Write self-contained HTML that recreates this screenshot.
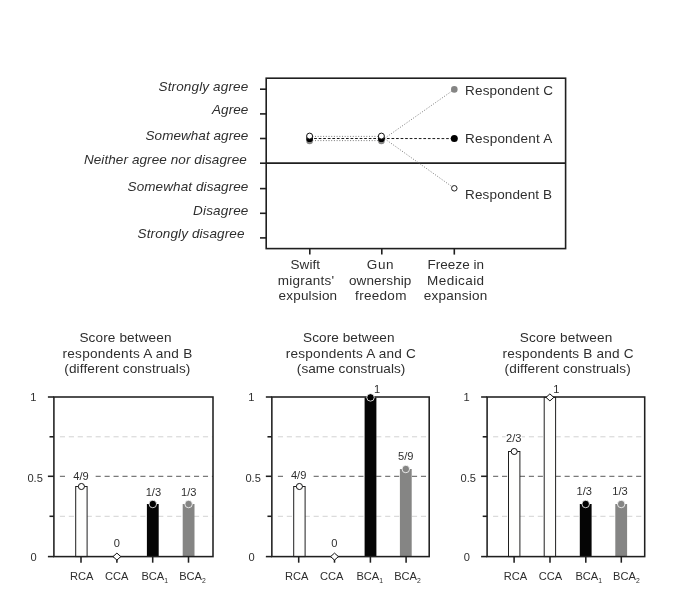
<!DOCTYPE html>
<html lang="en"><head><meta charset="utf-8"><title>Figure</title>
<style>html,body{margin:0;padding:0;background:#fff;}svg{display:block;font-family:"Liberation Sans",sans-serif;}</style>
</head><body>
<svg width="698" height="606" viewBox="0 0 698 606">
<rect width="698" height="606" fill="#fff"/>
<g stroke="#1f1f1f" stroke-width="1.6" fill="none">
<rect x="266.2" y="78.2" width="299.40000000000003" height="170.39999999999998"/>
<line x1="260.0" y1="89.2" x2="266.2" y2="89.2"/>
<line x1="260.0" y1="113.9" x2="266.2" y2="113.9"/>
<line x1="260.0" y1="138.5" x2="266.2" y2="138.5"/>
<line x1="260.0" y1="163.2" x2="266.2" y2="163.2"/>
<line x1="260.0" y1="188.6" x2="266.2" y2="188.6"/>
<line x1="260.0" y1="213.3" x2="266.2" y2="213.3"/>
<line x1="260.0" y1="237.9" x2="266.2" y2="237.9"/>
<line x1="266.2" y1="163.1" x2="565.6" y2="163.1"/>
<line x1="309.8" y1="248.6" x2="309.8" y2="254.6"/>
<line x1="381.8" y1="248.6" x2="381.8" y2="254.6"/>
<line x1="454.3" y1="248.6" x2="454.3" y2="254.6"/>
</g>
<text x="158.48" y="90.8" font-size="13.5" text-anchor="start" font-style="italic" textLength="89.75" lengthAdjust="spacing" fill="#2e2e2e">Strongly agree</text>
<text x="212.05" y="114.4" font-size="13.5" text-anchor="start" font-style="italic" textLength="36.29" lengthAdjust="spacing" fill="#2e2e2e">Agree</text>
<text x="145.54" y="139.9" font-size="13.5" text-anchor="start" font-style="italic" textLength="102.73" lengthAdjust="spacing" fill="#2e2e2e">Somewhat agree</text>
<text x="83.88" y="164.2" font-size="13.5" text-anchor="start" font-style="italic" textLength="162.89" lengthAdjust="spacing" fill="#2e2e2e">Neither agree nor disagree</text>
<text x="127.54" y="190.8" font-size="13.5" text-anchor="start" font-style="italic" textLength="120.84" lengthAdjust="spacing" fill="#2e2e2e">Somewhat disagree</text>
<text x="193.06" y="215.1" font-size="13.5" text-anchor="start" font-style="italic" textLength="55.32" lengthAdjust="spacing" fill="#2e2e2e">Disagree</text>
<text x="137.58" y="238.3" font-size="13.5" text-anchor="start" font-style="italic" textLength="106.87" lengthAdjust="spacing" fill="#2e2e2e">Strongly disagree</text>
<text x="290.54" y="269.1" font-size="13.5" text-anchor="start" textLength="29.52" lengthAdjust="spacing" fill="#2e2e2e">Swift</text>
<text x="277.82" y="284.7" font-size="13.5" text-anchor="start" textLength="56.29" lengthAdjust="spacing" fill="#2e2e2e">migrants'</text>
<text x="278.61" y="300.2" font-size="13.5" text-anchor="start" textLength="58.48" lengthAdjust="spacing" fill="#2e2e2e">expulsion</text>
<text x="366.82" y="269.1" font-size="13.5" text-anchor="start" textLength="26.82" lengthAdjust="spacing" fill="#2e2e2e">Gun</text>
<text x="348.97" y="284.7" font-size="13.5" text-anchor="start" textLength="62.4" lengthAdjust="spacing" fill="#2e2e2e">ownership</text>
<text x="355.09" y="300.2" font-size="13.5" text-anchor="start" textLength="51.29" lengthAdjust="spacing" fill="#2e2e2e">freedom</text>
<text x="427.46" y="269.1" font-size="13.5" text-anchor="start" textLength="56.63" lengthAdjust="spacing" fill="#2e2e2e">Freeze in</text>
<text x="427.1" y="284.7" font-size="13.5" text-anchor="start" textLength="57.01" lengthAdjust="spacing" fill="#2e2e2e">Medicaid</text>
<text x="423.87" y="300.2" font-size="13.5" text-anchor="start" textLength="63.5" lengthAdjust="spacing" fill="#2e2e2e">expansion</text>
<g fill="none" stroke-linecap="butt">
<path d="M309.6 140.6 L381.4 140.6 L454.3 89.4" stroke="#747474" stroke-width="0.95" stroke-dasharray="1 1.7"/>
<path d="M309.6 136.4 L381.4 136.4 L454.3 188.3" stroke="#747474" stroke-width="0.95" stroke-dasharray="1 1.7"/>
<path d="M309.6 138.5 L381.4 138.5 L454.3 138.6" stroke="#1c1c1c" stroke-width="1.0" stroke-dasharray="2.7 1.85"/>
</g>
<circle cx="309.6" cy="141.0" r="3.3" fill="#858584"/>
<circle cx="309.6" cy="138.7" r="3.4" fill="#000"/>
<circle cx="309.6" cy="136.1" r="3.0" fill="#fff" stroke="#111" stroke-width="1.0"/>
<circle cx="381.4" cy="141.0" r="3.3" fill="#858584"/>
<circle cx="381.4" cy="138.7" r="3.4" fill="#000"/>
<circle cx="381.4" cy="136.1" r="3.0" fill="#fff" stroke="#111" stroke-width="1.0"/>
<circle cx="454.3" cy="89.4" r="3.3" fill="#858584"/>
<circle cx="454.3" cy="138.6" r="3.5" fill="#000"/>
<circle cx="454.3" cy="188.3" r="2.75" fill="#fff" stroke="#111" stroke-width="0.95"/>
<text x="465.1" y="95.4" font-size="13.5" text-anchor="start" textLength="87.9" lengthAdjust="spacing" fill="#2e2e2e">Respondent C</text>
<text x="465.1" y="143.0" font-size="13.5" text-anchor="start" textLength="87.05" lengthAdjust="spacing" fill="#2e2e2e">Respondent A</text>
<text x="465.1" y="199.4" font-size="13.5" text-anchor="start" textLength="87.04" lengthAdjust="spacing" fill="#2e2e2e">Respondent B</text>
<text x="79.42" y="342.2" font-size="13.6" text-anchor="start" textLength="92.1" lengthAdjust="spacing" fill="#2e2e2e">Score between</text>
<text x="62.54" y="357.9" font-size="13.6" text-anchor="start" textLength="129.7" lengthAdjust="spacing" fill="#2e2e2e">respondents A and B</text>
<text x="64.31" y="373.3" font-size="13.6" text-anchor="start" textLength="126.05" lengthAdjust="spacing" fill="#2e2e2e">(different construals)</text>
<line x1="59.9" y1="436.8" x2="213.0" y2="436.8" stroke="#c9c9c9" stroke-width="0.85" stroke-dasharray="5.1 3.84"/>
<line x1="59.9" y1="476.3" x2="213.0" y2="476.3" stroke="#3a3a3a" stroke-width="0.85" stroke-dasharray="5.1 3.84"/>
<line x1="59.9" y1="516.3" x2="213.0" y2="516.3" stroke="#c9c9c9" stroke-width="0.85" stroke-dasharray="5.1 3.84"/>
<rect x="75.7" y="486.5" width="11.4" height="70.1" fill="#fefefd" stroke="#1f1f1f" stroke-width="1"/>
<rect x="146.9" y="504.0" width="11.8" height="52.6" fill="#050505"/>
<rect x="182.7" y="504.0" width="11.8" height="52.6" fill="#858584"/>
<g stroke="#1f1f1f" stroke-width="1.55" fill="none">
<rect x="53.9" y="397.0" width="159.10" height="159.60"/>
<line x1="47.9" y1="397.0" x2="53.9" y2="397.0"/>
<line x1="49.5" y1="436.8" x2="53.9" y2="436.8"/>
<line x1="47.9" y1="476.3" x2="53.9" y2="476.3"/>
<line x1="49.5" y1="516.3" x2="53.9" y2="516.3"/>
<line x1="47.9" y1="556.6" x2="53.9" y2="556.6"/>
<line x1="81.0" y1="556.6" x2="81.0" y2="562.7"/>
<line x1="116.9" y1="556.6" x2="116.9" y2="562.7"/>
<line x1="152.7" y1="556.6" x2="152.7" y2="562.7"/>
<line x1="188.5" y1="556.6" x2="188.5" y2="562.7"/>
</g>
<rect x="66.8" y="470.6" width="25.9" height="10" fill="#fff"/>
<text x="81.0" y="480.2" font-size="11.1" text-anchor="middle" fill="#2e2e2e">4/9</text>
<circle cx="81.4" cy="486.5" r="3.05" fill="#fff" stroke="#111" stroke-width="1"/>
<rect x="113.5" y="537.5" width="6.8" height="10" fill="#fff"/>
<text x="116.9" y="547.1" font-size="11.1" text-anchor="middle" fill="#2e2e2e">0</text>
<path d="M116.9 553.1 l3.9 3.5 l-3.9 3.5 l-3.9 -3.5 z" fill="#fff" stroke="#111" stroke-width="1"/>
<rect x="145.3" y="485.9" width="16.2" height="10" fill="#fff"/>
<text x="153.4" y="495.5" font-size="11.1" text-anchor="middle" fill="#2e2e2e">1/3</text>
<circle cx="152.8" cy="504.0" r="3.75" fill="#000" stroke="#fff" stroke-width="0.8"/>
<rect x="180.7" y="485.9" width="16.2" height="10" fill="#fff"/>
<text x="188.8" y="495.5" font-size="11.1" text-anchor="middle" fill="#2e2e2e">1/3</text>
<circle cx="188.6" cy="504.0" r="3.75" fill="#858584" stroke="#fff" stroke-width="0.8"/>
<text x="33.4" y="401.0" font-size="11.1" text-anchor="middle" fill="#2e2e2e">1</text>
<text x="35.1" y="482.0" font-size="11.1" text-anchor="middle" fill="#2e2e2e">0.5</text>
<text x="33.6" y="560.8" font-size="11.1" text-anchor="middle" fill="#2e2e2e">0</text>
<text x="81.8" y="579.7" font-size="11.1" text-anchor="middle" fill="#2e2e2e">RCA</text>
<text x="116.6" y="579.7" font-size="11.1" text-anchor="middle" fill="#2e2e2e">CCA</text>
<text x="141.4" y="579.7" font-size="11.1" text-anchor="start" fill="#2e2e2e">BCA<tspan font-size="6.8" dy="3">1</tspan></text>
<text x="179.2" y="579.7" font-size="11.1" text-anchor="start" fill="#2e2e2e">BCA<tspan font-size="6.8" dy="3">2</tspan></text>
<text x="303.1" y="342.2" font-size="13.6" text-anchor="start" textLength="91.42" lengthAdjust="spacing" fill="#2e2e2e">Score between</text>
<text x="285.82" y="357.9" font-size="13.6" text-anchor="start" textLength="130.09" lengthAdjust="spacing" fill="#2e2e2e">respondents A and C</text>
<text x="296.82" y="373.3" font-size="13.6" text-anchor="start" textLength="108.54" lengthAdjust="spacing" fill="#2e2e2e">(same construals)</text>
<line x1="277.9" y1="436.8" x2="429.2" y2="436.8" stroke="#c9c9c9" stroke-width="0.85" stroke-dasharray="5.1 3.84"/>
<line x1="277.9" y1="476.3" x2="429.2" y2="476.3" stroke="#3a3a3a" stroke-width="0.85" stroke-dasharray="5.1 3.84"/>
<line x1="277.9" y1="516.3" x2="429.2" y2="516.3" stroke="#c9c9c9" stroke-width="0.85" stroke-dasharray="5.1 3.84"/>
<rect x="293.7" y="486.5" width="11.4" height="70.1" fill="#fefefd" stroke="#1f1f1f" stroke-width="1"/>
<rect x="364.6" y="397.4" width="11.8" height="159.2" fill="#050505"/>
<rect x="399.9" y="469.0" width="11.8" height="87.6" fill="#858584"/>
<g stroke="#1f1f1f" stroke-width="1.55" fill="none">
<rect x="271.85" y="397.0" width="157.35" height="159.60"/>
<line x1="265.85" y1="397.0" x2="271.85" y2="397.0"/>
<line x1="267.45000000000005" y1="436.8" x2="271.85" y2="436.8"/>
<line x1="265.85" y1="476.3" x2="271.85" y2="476.3"/>
<line x1="267.45000000000005" y1="516.3" x2="271.85" y2="516.3"/>
<line x1="265.85" y1="556.6" x2="271.85" y2="556.6"/>
<line x1="298.7" y1="556.6" x2="298.7" y2="562.7"/>
<line x1="334.5" y1="556.6" x2="334.5" y2="562.7"/>
<line x1="370.4" y1="556.6" x2="370.4" y2="562.7"/>
<line x1="406.1" y1="556.6" x2="406.1" y2="562.7"/>
</g>
<rect x="284.4" y="469.6" width="25.9" height="10" fill="#fff"/>
<text x="298.6" y="479.2" font-size="11.1" text-anchor="middle" fill="#2e2e2e">4/9</text>
<circle cx="299.4" cy="486.5" r="3.05" fill="#fff" stroke="#111" stroke-width="1"/>
<rect x="330.9" y="537.7" width="6.8" height="10" fill="#fff"/>
<text x="334.3" y="547.3" font-size="11.1" text-anchor="middle" fill="#2e2e2e">0</text>
<path d="M334.5 553.1 l3.9 3.5 l-3.9 3.5 l-3.9 -3.5 z" fill="#fff" stroke="#111" stroke-width="1"/>
<text x="374.0" y="392.7" font-size="11.1" text-anchor="start" fill="#2e2e2e">1</text>
<circle cx="370.5" cy="397.4" r="3.75" fill="#000" stroke="#fff" stroke-width="0.8"/>
<rect x="397.7" y="450.3" width="16.2" height="10" fill="#fff"/>
<text x="405.8" y="459.9" font-size="11.1" text-anchor="middle" fill="#2e2e2e">5/9</text>
<circle cx="405.8" cy="469.0" r="3.75" fill="#858584" stroke="#fff" stroke-width="0.8"/>
<text x="251.4" y="401.0" font-size="11.1" text-anchor="middle" fill="#2e2e2e">1</text>
<text x="253.1" y="482.0" font-size="11.1" text-anchor="middle" fill="#2e2e2e">0.5</text>
<text x="251.6" y="560.8" font-size="11.1" text-anchor="middle" fill="#2e2e2e">0</text>
<text x="296.8" y="579.7" font-size="11.1" text-anchor="middle" fill="#2e2e2e">RCA</text>
<text x="331.6" y="579.7" font-size="11.1" text-anchor="middle" fill="#2e2e2e">CCA</text>
<text x="356.4" y="579.7" font-size="11.1" text-anchor="start" fill="#2e2e2e">BCA<tspan font-size="6.8" dy="3">1</tspan></text>
<text x="394.2" y="579.7" font-size="11.1" text-anchor="start" fill="#2e2e2e">BCA<tspan font-size="6.8" dy="3">2</tspan></text>
<text x="519.82" y="342.2" font-size="13.6" text-anchor="start" textLength="92.42" lengthAdjust="spacing" fill="#2e2e2e">Score between</text>
<text x="502.54" y="357.9" font-size="13.6" text-anchor="start" textLength="130.95" lengthAdjust="spacing" fill="#2e2e2e">respondents B and C</text>
<text x="504.57" y="373.3" font-size="13.6" text-anchor="start" textLength="126.09" lengthAdjust="spacing" fill="#2e2e2e">(different construals)</text>
<line x1="493.1" y1="436.8" x2="644.7" y2="436.8" stroke="#c9c9c9" stroke-width="0.85" stroke-dasharray="5.1 3.84"/>
<line x1="493.1" y1="476.3" x2="644.7" y2="476.3" stroke="#3a3a3a" stroke-width="0.85" stroke-dasharray="5.1 3.84"/>
<line x1="493.1" y1="516.3" x2="644.7" y2="516.3" stroke="#c9c9c9" stroke-width="0.85" stroke-dasharray="5.1 3.84"/>
<rect x="508.5" y="451.5" width="11.4" height="105.1" fill="#fefefd" stroke="#1f1f1f" stroke-width="1"/>
<rect x="544.2" y="397.4" width="11.4" height="159.2" fill="#fefefd" stroke="#1f1f1f" stroke-width="1"/>
<rect x="579.8" y="504.0" width="11.8" height="52.6" fill="#050505"/>
<rect x="615.3" y="504.0" width="11.8" height="52.6" fill="#858584"/>
<g stroke="#1f1f1f" stroke-width="1.55" fill="none">
<rect x="487.1" y="397.0" width="157.60" height="159.60"/>
<line x1="481.1" y1="397.0" x2="487.1" y2="397.0"/>
<line x1="482.70000000000005" y1="436.8" x2="487.1" y2="436.8"/>
<line x1="481.1" y1="476.3" x2="487.1" y2="476.3"/>
<line x1="482.70000000000005" y1="516.3" x2="487.1" y2="516.3"/>
<line x1="481.1" y1="556.6" x2="487.1" y2="556.6"/>
<line x1="514.1" y1="556.6" x2="514.1" y2="562.7"/>
<line x1="550.0" y1="556.6" x2="550.0" y2="562.7"/>
<line x1="585.8" y1="556.6" x2="585.8" y2="562.7"/>
<line x1="621.3" y1="556.6" x2="621.3" y2="562.7"/>
</g>
<rect x="505.6" y="432.1" width="16.2" height="10" fill="#fff"/>
<text x="513.7" y="441.7" font-size="11.1" text-anchor="middle" fill="#2e2e2e">2/3</text>
<circle cx="514.2" cy="451.5" r="3.05" fill="#fff" stroke="#111" stroke-width="1"/>
<text x="553.2" y="393.1" font-size="11.1" text-anchor="start" fill="#2e2e2e">1</text>
<path d="M549.9 393.9 l3.9 3.5 l-3.9 3.5 l-3.9 -3.5 z" fill="#fff" stroke="#111" stroke-width="1"/>
<rect x="576.1" y="485.7" width="16.2" height="10" fill="#fff"/>
<text x="584.2" y="495.3" font-size="11.1" text-anchor="middle" fill="#2e2e2e">1/3</text>
<circle cx="585.7" cy="504.0" r="3.75" fill="#000" stroke="#fff" stroke-width="0.8"/>
<rect x="611.9" y="485.7" width="16.2" height="10" fill="#fff"/>
<text x="620.0" y="495.3" font-size="11.1" text-anchor="middle" fill="#2e2e2e">1/3</text>
<circle cx="621.2" cy="504.0" r="3.75" fill="#858584" stroke="#fff" stroke-width="0.8"/>
<text x="466.6" y="401.0" font-size="11.1" text-anchor="middle" fill="#2e2e2e">1</text>
<text x="468.3" y="482.0" font-size="11.1" text-anchor="middle" fill="#2e2e2e">0.5</text>
<text x="466.8" y="560.8" font-size="11.1" text-anchor="middle" fill="#2e2e2e">0</text>
<text x="515.4" y="579.7" font-size="11.1" text-anchor="middle" fill="#2e2e2e">RCA</text>
<text x="550.5" y="579.7" font-size="11.1" text-anchor="middle" fill="#2e2e2e">CCA</text>
<text x="575.4" y="579.7" font-size="11.1" text-anchor="start" fill="#2e2e2e">BCA<tspan font-size="6.8" dy="3">1</tspan></text>
<text x="613.1" y="579.7" font-size="11.1" text-anchor="start" fill="#2e2e2e">BCA<tspan font-size="6.8" dy="3">2</tspan></text>
</svg></body></html>
